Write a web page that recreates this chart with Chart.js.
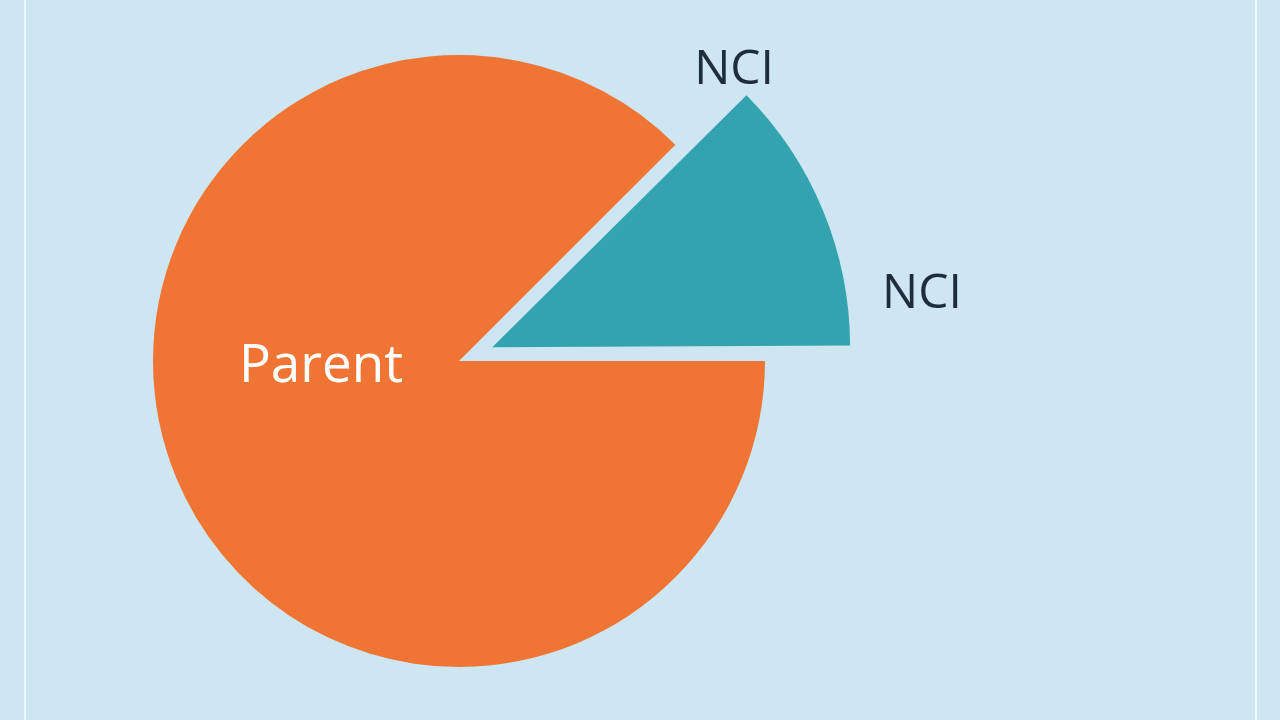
<!DOCTYPE html>
<html>
<head>
<meta charset="utf-8">
<title>Parent / NCI</title>
<script src="https://cdn.jsdelivr.net/npm/chart.js@4/dist/chart.umd.min.js"></script>
<style>
    html, body { margin: 0; padding: 0; background: #cee6f1; }
    #wrap { width: 1280px; height: 720px; position: relative; }
</style>
</head>
<body>
<div id="wrap"><canvas id="ownershipChart"></canvas></div>
<script>
// data
const labels = ['Parent', 'NCI'];
const shares = [87.5, 12.5];
const sliceColors = ['#f07535', '#34a3b0'];
// chart.js moves an arc by offset/4
const sliceOffsets = [0, 144];
// NCI wedge is drawn a bit bigger than the parent circle
const nciScale = 1.135;

// background + the thin frame lines
const backdrop = {
    id: 'backdrop',
    beforeDraw(chart) {
        const ctx = chart.ctx;
        ctx.save();
        ctx.fillStyle = '#cee6f1';
        ctx.fillRect(0, 0, chart.width, chart.height);
        ctx.strokeStyle = 'rgba(240, 250, 253, 0.9)';
        ctx.lineWidth = 2;
        ctx.beginPath();
        ctx.moveTo(25, 0); ctx.lineTo(25, chart.height);
        ctx.moveTo(1256, 0); ctx.lineTo(1256, chart.height);
        ctx.stroke();
        ctx.restore();
    }
};

// make the NCI slice bigger
const bigSlice = {
    id: 'bigSlice',
    beforeDatasetsDraw(chart) {
        const meta = chart.getDatasetMeta(0);
        const r = meta.controller.outerRadius;
        meta.data[1].outerRadius = r * nciScale;
    }
};

// text labels
const sliceLabels = {
    id: 'sliceLabels',
    afterDatasetsDraw(chart) {
        const meta = chart.getDatasetMeta(0);
        const r = meta.controller.outerRadius;
        const cx = meta.data[0].x;
        const cy = meta.data[0].y;
        const ctx = chart.ctx;
        ctx.save();
        ctx.textAlign = 'center';
        ctx.textBaseline = 'middle';

        ctx.fillStyle = '#ffffff';
        ctx.font = '53px "Open Sans"';
        ctx.fillText(labels[0], cx - 0.451 * r, cy + 0.02 * r);

        ctx.fillStyle = '#1f2d3a';
        ctx.font = '48px "Open Sans"';
        ctx.fillText(labels[1], cx + 0.899 * r, cy - 0.951 * r);
        ctx.fillText(labels[1], cx + 1.513 * r, cy - 0.219 * r);
        ctx.restore();
    }
};

const ctx = document.getElementById('ownershipChart');

const chart = new Chart(ctx, {
    type: 'pie',
    data: {
        labels: labels,
        datasets: [{
            data: shares,
            backgroundColor: sliceColors,
            offset: sliceOffsets,
            borderWidth: 0
        }]
    },
    options: {
        responsive: true,
        maintainAspectRatio: false,
        animation: false,
        rotation: 90,
        radius: 306,
        layout: {
            padding: { left: 0, right: 362, top: 2, bottom: 0 }
        },
        plugins: {
            legend: { display: false },
            tooltip: { enabled: false }
        }
    },
    plugins: [backdrop, bigSlice, sliceLabels]
});
</script>
</body>
</html>
